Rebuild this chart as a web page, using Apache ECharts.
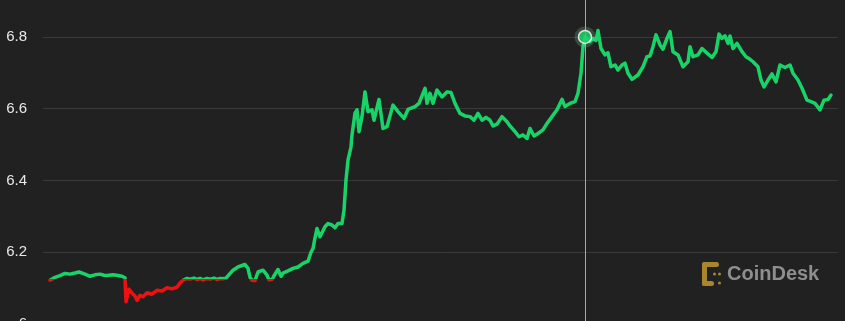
<!DOCTYPE html>
<html>
<head>
<meta charset="utf-8">
<script src="https://cdn.jsdelivr.net/npm/echarts@6/dist/echarts.min.js"></script>
<style>
html,body{margin:0;padding:0;background:#212121;}
#chart{width:845px;height:321px;}
</style>
</head>
<body>
<div id="chart"></div>
<script>
// time offsets (arbitrary minute-like units from open)
var times = [0,5,10,15,20,25,29,35,40,45,50,54,57,63,68,72,75,76,79,82,85,87,90,93,97,102,107,112,117,122,127,130,133,137,140,144,147,150,153,157,160,164,167,170,173,176,178,183,188,192,195,198,200,202,205,208,213,217,219,222,225,228,231,233,238,243,248,253,258,261,263,265,267,270,275,278,282,285,288,292,294,296,298,301,302,303,305,307,309,312,315,318,322,324,329,333,337,343,348,354,358,365,369,375,377,380,383,387,392,397,401,405,410,415,420,424,428,432,436,440,443,447,452,457,460,465,469,473,477,480,484,488,493,497,502,507,512,515,520,525,528,531,533,535,540,543,546,548,551,555,558,561,565,568,572,575,578,582,588,593,597,600,603,606,610,613,617,620,623,628,633,638,640,643,648,652,657,662,666,669,672,675,678,680,683,687,692,696,700,703,708,711,714,718,722,726,730,735,740,743,748,752,757,761,765,770,774,778,781];
var values = [6.122,6.130,6.135,6.141,6.139,6.142,6.145,6.139,6.133,6.137,6.139,6.136,6.135,6.137,6.135,6.133,6.129,6.062,6.097,6.086,6.078,6.066,6.080,6.076,6.087,6.083,6.094,6.092,6.101,6.098,6.103,6.114,6.122,6.127,6.125,6.128,6.124,6.127,6.123,6.127,6.125,6.128,6.124,6.127,6.126,6.128,6.131,6.150,6.159,6.163,6.166,6.155,6.130,6.122,6.121,6.145,6.150,6.136,6.123,6.124,6.139,6.152,6.133,6.142,6.148,6.155,6.159,6.169,6.175,6.200,6.210,6.240,6.266,6.243,6.271,6.280,6.276,6.268,6.280,6.280,6.317,6.401,6.457,6.494,6.527,6.522,6.588,6.597,6.536,6.578,6.647,6.592,6.597,6.568,6.626,6.545,6.550,6.610,6.592,6.573,6.598,6.606,6.615,6.657,6.615,6.643,6.615,6.652,6.633,6.647,6.645,6.615,6.587,6.580,6.578,6.568,6.587,6.568,6.576,6.568,6.552,6.557,6.578,6.564,6.552,6.536,6.522,6.527,6.517,6.545,6.524,6.531,6.541,6.559,6.578,6.597,6.626,6.606,6.615,6.620,6.643,6.699,6.773,6.800,6.787,6.796,6.790,6.818,6.768,6.750,6.756,6.717,6.722,6.708,6.722,6.727,6.699,6.682,6.694,6.717,6.745,6.747,6.773,6.806,6.778,6.766,6.796,6.815,6.759,6.750,6.717,6.731,6.773,6.745,6.750,6.768,6.755,6.743,6.759,6.808,6.796,6.803,6.782,6.803,6.768,6.782,6.759,6.745,6.738,6.731,6.717,6.680,6.661,6.680,6.697,6.675,6.722,6.715,6.722,6.699,6.680,6.657,6.624,6.620,6.615,6.597,6.624,6.626,6.638];
var openValue = 6.126;
var highlightIndex = 143;
var yTicks = {min: 6.0, interval: 0.2};

var lineData = times.map(function (t, i) { return [t, values[i]]; });
var hi = [[times[highlightIndex], values[highlightIndex]]];

var chart = echarts.init(document.getElementById('chart'), null, {renderer: 'canvas'});
chart.setOption({
  animation: false,
  backgroundColor: '#212121',
  grid: {left: 43, right: 7, top: 0, bottom: -3, outerBoundsMode: 'none', containLabel: false},
  xAxis: {
    type: 'value', min: -7, max: 788,
    show: false
  },
  yAxis: {
    type: 'value', min: yTicks.min, max: 6.9031, interval: yTicks.interval,
    axisLine: {show: false}, axisTick: {show: false},
    axisLabel: {
      color: '#e8e8e8', fontSize: 15, margin: 16,
      fontFamily: 'Liberation Sans, Arial, sans-serif',
      showMaxLabel: false,
      formatter: function (v) { return String(Math.round(v * 10) / 10); }
    },
    splitLine: {show: true, showMaxLine: false, lineStyle: {color: '#3a3a3a', width: 1}}
  },
  visualMap: {
    show: false, type: 'piecewise', dimension: 1, seriesIndex: 0,
    pieces: [
      {gt: 5, lt: openValue, color: '#f01010'},
      {gte: openValue, lt: 8, color: '#18d468'}
    ],
    outOfRange: {color: '#18d468'}
  },
  series: [
    {
      type: 'line', data: lineData, symbol: 'none', smooth: false,
      lineStyle: {width: 3.5, join: 'round', cap: 'round'}, z: 3
    },
    {
      type: 'scatter', data: hi, symbol: 'circle', symbolSize: 21,
      itemStyle: {color: 'rgba(120,200,150,0.32)'}, z: 4, silent: true,
      markLine: {
        silent: true, symbol: 'none', animation: false,
        label: {show: false},
        lineStyle: {color: '#a8a8a8', width: 1, type: 'solid'},
        data: [{xAxis: times[highlightIndex]}]
      }
    },
    {
      type: 'scatter', data: hi, symbol: 'circle', symbolSize: 13,
      itemStyle: {color: '#18d468', borderColor: '#ffffff', borderWidth: 1.5},
      z: 5, silent: true
    }
  ],
  graphic: [
    {type: 'rect', shape: {x: 702, y: 262, width: 17, height: 5, r: 2.5}, style: {fill: '#a8862e'}},
    {type: 'rect', shape: {x: 702, y: 262, width: 5, height: 24, r: 2.5}, style: {fill: '#a8862e'}},
    {type: 'rect', shape: {x: 702, y: 281, width: 12, height: 5, r: 2.5}, style: {fill: '#a8862e'}},
    {type: 'circle', shape: {cx: 714.5, cy: 274, r: 1.5}, style: {fill: '#a8862e'}},
    {type: 'circle', shape: {cx: 719.5, cy: 274, r: 1.5}, style: {fill: '#a8862e'}},
    {type: 'circle', shape: {cx: 719.5, cy: 283, r: 1.5}, style: {fill: '#a8862e'}},
    {type: 'text', left: 727, top: 264, style: {text: 'CoinDesk', fill: '#8e8e8e', font: 'bold 20px "Liberation Sans", Arial, sans-serif'}}
  ]
});
</script>
</body>
</html>
